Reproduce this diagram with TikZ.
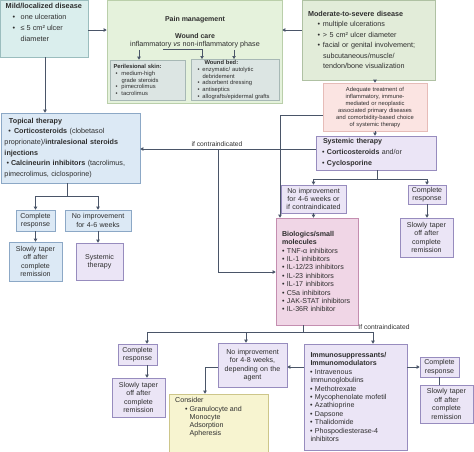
\documentclass[tikz,border=0pt]{standalone}
\usepackage{fontspec}
\setmainfont{Liberation Sans}
\usetikzlibrary{arrows.meta}
\setlength{\parindent}{0pt}
\definecolor{linec}{HTML}{4A5568}
\definecolor{txtc}{HTML}{2E2E2E}
\definecolor{mildf}{HTML}{DAEEED}\definecolor{mildd}{HTML}{9BBDBE}
\definecolor{greenf}{HTML}{E5F2DC}\definecolor{greend}{HTML}{BACFAA}
\definecolor{subf}{HTML}{DCE5E3}\definecolor{subd}{HTML}{A7B8B5}
\definecolor{modf}{HTML}{E2ECD9}\definecolor{modd}{HTML}{AFC1A3}
\definecolor{pinkf}{HTML}{FBE4E2}\definecolor{pinkd}{HTML}{E6BCB8}
\definecolor{purf}{HTML}{EBE5F6}\definecolor{purd}{HTML}{978CBE}
\definecolor{bluef}{HTML}{DCE9F5}\definecolor{blued}{HTML}{8CA8C6}
\definecolor{biof}{HTML}{F0D6E6}\definecolor{biod}{HTML}{C48EB0}
\definecolor{yelf}{HTML}{F7F4D0}\definecolor{yeld}{HTML}{CDC68A}
\newcommand{\mybox}[7]{%
 \pgfmathsetmacro{\mybw}{#5-#3}%
 \pgfmathsetmacro{\mybh}{#6-#4}%
 \pgfmathsetmacro{\mybcx}{(#3+#5)/2}%
 \pgfmathsetmacro{\mybcy}{(#4+#6)/2}%
 \pgfmathsetmacro{\mybtw}{#5-#3-7}%
 \node[#2, minimum width=\mybw pt, minimum height=\mybh pt, text width=\mybtw pt] (#1) at (\mybcx,\mybcy) {#7};}
\newcommand{\mybl}[1][7pt]{\makebox[#1][l]{\textbullet}}
\newcommand{\myli}[1]{\hspace*{2.5pt}\textbullet\hspace{2.5pt}#1}
\tikzset{
 bxbase/.style={draw, line width=0.6pt, inner xsep=3.5pt, inner ysep=1pt, text=txtc, align=left, font=\fontsize{7.1}{8.4}\selectfont},
 bxmild/.style={bxbase, fill=mildf, draw=mildd},
 bxgreen/.style={bxbase, fill=greenf, draw=greend},
 bxsub/.style={bxbase, fill=subf, draw=subd, font=\fontsize{5.8}{6.8}\selectfont},
 bxmod/.style={bxbase, fill=modf, draw=modd},
 bxpink/.style={bxbase, fill=pinkf, draw=pinkd},
 bxpur/.style={bxbase, fill=purf, draw=purd},
 bxblue/.style={bxbase, fill=bluef, draw=blued},
 bxbio/.style={bxbase, fill=biof, draw=biod},
 bxyel/.style={bxbase, fill=yelf, draw=yeld},
 cen/.style={align=center},
 txtnode/.style={inner sep=0pt, align=left, text=txtc},
 lbl/.style={inner sep=0pt, text=txtc, font=\fontsize{6.7}{7}\selectfont},
 conn/.style={draw=linec, line width=0.7pt},
 arr/.style={conn, -{Triangle[width=3.4pt,length=3pt]}},
}
\begin{document}
\begin{tikzpicture}[x=1pt,y=-1pt]
\useasboundingbox (0,0) rectangle (474,451);
% top row
\mybox{mild}{bxmild}{0.3}{0.3}{88}{57}{}
\node[txtnode, anchor=north west, font=\fontsize{7.3}{11}\selectfont] (mildt) at (5.5,3.5) {\textbf{Mild/localized disease}\\ \hspace*{7pt}\mybl[8pt]one ulceration\\ \hspace*{7pt}\mybl[8pt]≤ 5 cm² ulcer\\ \hspace*{15pt}diameter};
\mybox{green}{bxgreen}{107}{0.3}{282}{103}{}
\node[txtnode, font=\bfseries\fontsize{7}{8}\selectfont] (pm) at (195,20) {Pain management};
\node[txtnode, font=\bfseries\fontsize{7}{8}\selectfont] (wc) at (195,35.5) {Wound care};
\node[txtnode, font=\fontsize{7.2}{8}\selectfont] (ph) at (195,44.5) {inflammatory \textit{vs} non-inflammatory phase};
\mybox{per}{bxsub}{110}{60}{185}{100}{\textbf{Perilesional skin:}\\\hspace*{2pt}\mybl[6pt]medium-high\\\hspace*{8pt}grade steroids\\\hspace*{2pt}\mybl[6pt]pimecrolimus\\\hspace*{2pt}\mybl[6pt]tacrolimus}
\mybox{wb}{bxsub}{191}{60}{279}{100}{\hspace*{10pt}\textbf{Wound bed:}\\\hspace*{3pt}\mybl[5pt]enzymatic/ autolytic\\\hspace*{8pt}debridement\\\hspace*{3pt}\mybl[5pt]adsorbent dressing\\\hspace*{3pt}\mybl[5pt]antiseptics\\\hspace*{3pt}\mybl[5pt]allografts/epidermal grafts}
\mybox{mod}{bxmod, font=\fontsize{7.2}{10.5}\selectfont}{302}{0.3}{435}{80}{\hspace*{2.5pt}\textbf{Moderate-to-severe disease}\\\hspace*{12pt}\mybl[5.5pt]multiple ulcerations\\\hspace*{12pt}\mybl[5.5pt]> 5 cm² ulcer diameter\\\hspace*{12pt}\mybl[5.5pt]facial or genital involvement;\\\hspace*{17.5pt}subcutaneous/muscle/\\\hspace*{17.5pt}tendon/bone visualization}
\mybox{pink}{bxpink, cen, font=\fontsize{5.8}{7}\selectfont}{323}{83}{427}{131}{Adequate treatment of\\inflammatory, immune-\\mediated or neoplastic\\associated primary diseases\\and comorbidity-based choice\\of systemic therapy}
\mybox{sys}{bxpur, font=\fontsize{7.1}{11}\selectfont}{316}{136}{436}{170}{\hspace*{3.5pt}\textbf{Systemic therapy}\\\myli{\textbf{Corticosteroids} and/or}\\\myli{\textbf{Cyclosporine}}}
\mybox{top}{bxblue, font=\fontsize{7.2}{10.7}\selectfont}{1}{113}{140}{183}{\hspace*{4.5pt}\textbf{Topical therapy}\\\hspace*{4pt}\textbullet\hspace{3pt}\textbf{Corticosteroids} (clobetasol\\proprionate)/\textbf{intralesional steroids}\\\textbf{injections}\\\hspace*{2pt}\textbullet\hspace{2pt}\textbf{Calcineurin inhibitors} (tacrolimus,\\pimecrolimus, ciclosporine)}
% left branch
\mybox{cra}{bxblue, cen}{16}{210}{55}{231}{Complete\\response}
\mybox{sta}{bxblue, cen}{9}{242}{62}{281}{Slowly taper\\off after\\complete\\remission}
\mybox{nia}{bxblue, cen}{65}{210}{131}{231}{No improvement\\for 4-6 weeks}
\mybox{sya}{bxpur, cen}{76}{243}{123}{280}{Systemic\\therapy}
% systemic branch
\mybox{nib}{bxpur, cen}{281}{185}{346}{213}{No improvement\\for 4-6 weeks or\\if contraindicated}
\mybox{crb}{bxpur, cen}{408}{185}{446}{204}{Complete\\response}
\mybox{stb}{bxpur, cen}{400}{218}{453}{257}{Slowly taper\\off after\\complete\\remission}
\mybox{bio}{bxbio}{276}{218}{358}{325}{\hspace*{2.5pt}\textbf{Biologics/small}\\\hspace*{2.5pt}\textbf{molecules}\\\myli{TNF-α inhibitors}\\\myli{IL-1 inhibitors}\\\myli{IL-12/23 inhibitors}\\\myli{IL-23 inhibitors}\\\myli{IL-17 inhibitors}\\\myli{C5a inhibitors}\\\myli{JAK-STAT inhibitors}\\\myli{IL-36R inhibitor}}
% bottom row
\mybox{crc}{bxpur, cen}{118}{344}{157}{365}{Complete\\response}
\mybox{stc}{bxpur, cen}{112}{378}{165}{417}{Slowly taper\\off after\\complete\\remission}
\mybox{nic}{bxpur, cen}{218}{343}{287}{387}{No improvement\\for 4-8 weeks,\\depending on the\\agent}
\mybox{con}{bxyel}{169}{394}{268}{455}{}
\node[txtnode, anchor=north west, font=\fontsize{7.1}{8.2}\selectfont] (cont) at (175,397.5) {Consider\\\hspace*{10pt}\mybl[4.5pt]Granulocyte and\\\hspace*{14.5pt}Monocyte\\\hspace*{14.5pt}Adsorption\\\hspace*{14.5pt}Apheresis};
\mybox{imm}{bxpur}{304}{344}{407}{450}{\hspace*{3pt}\textbf{Immunosuppressants/}\\\hspace*{3pt}\textbf{Immunomodulators}\\\myli{Intravenous}\\\hspace*{3pt}immunoglobulins\\\myli{Methotrexate}\\\myli{Mycophenolate mofetil}\\\myli{Azathioprine}\\\myli{Dapsone}\\\myli{Thalidomide}\\\myli{Phospodiesterase-4}\\\hspace*{3pt}inhibitors}
\mybox{crd}{bxpur, cen}{420}{357}{459}{377}{Complete\\response}
\mybox{std}{bxpur, cen}{420}{385}{473}{423}{Slowly taper\\off after\\complete\\remission}
% labels
\node[lbl] (ifa) at (217,144.5) {if contraindicated};
\node[lbl] (ifb) at (384,327.5) {If contraindicated};
% helper coordinates
\coordinate (r30) at (0,30);
\coordinate (c45) at (45,0);
\coordinate (r115) at (0,115);
\coordinate (c280) at (280,0);
\coordinate (r149) at (0,149);
\coordinate (c218) at (218,149);
\coordinate (r272) at (0,272);
\coordinate (tsplit) at (67,196);
\coordinate (ssplit) at (377,179);
\coordinate (bsplit) at (303,332);
\coordinate (c147) at (147,0);
\coordinate (c246) at (246,0);
\coordinate (c373) at (373,0);
\coordinate (r367) at (0,367);
\coordinate (c205) at (205,0);
\coordinate (ph1) at (139,49.5);
\coordinate (ph2) at (163,49.5);
\coordinate (ph3) at (202,49.5);
\coordinate (ph4) at (234,49.5);
% connectors
\draw[arr] (mild.east |- r30) -- (green.west |- r30);
\draw[arr] (mod.west |- r30) -- (green.east |- r30);
\draw[arr] (ph1) -- (ph1 |- per.north);
\draw[arr] (ph2) -- (ph3) -- (ph3 |- wb.north);
\draw[arr] (ph4) -- (ph4 |- wb.north);
\draw[arr] (mild.south -| c45) -- (top.north -| c45);
\draw[arr] (mod.south -| pink.north) -- (pink.north);
\draw[arr] (pink.south) -- (pink.south |- sys.north);
\draw[arr] (pink.west |- r115) -| (bio.north -| c280);
\draw[arr] (sys.west |- r149) -- (top.east |- r149);
\draw[arr] (c218) |- (bio.west |- r272);
\draw[conn] (top.south -| tsplit) -- (tsplit);
\draw[arr] (tsplit) -| (cra.north);
\draw[arr] (tsplit) -| (nia.north);
\draw[arr] (cra.south) -- (cra.south |- sta.north);
\draw[arr] (nia.south) -- (nia.south |- sya.north);
\draw[conn] (sys.south -| ssplit) -- (ssplit);
\draw[arr] (ssplit) -| (nib.north);
\draw[arr] (ssplit) -| (crb.north);
\draw[arr] (nib.south) -- (nib.south |- bio.north);
\draw[arr] (crb.south) -- (crb.south |- stb.north);
\draw[conn] (bio.south -| bsplit) -- (bsplit);
\draw[arr] (bsplit) -| (crc.north -| c147);
\draw[arr] (bsplit) -| (nic.north -| c246);
\draw[arr] (bsplit) -| (imm.north -| c373);
\draw[arr] (crc.south -| c147) -- (stc.north -| c147);
\draw[arr] (imm.west |- r367) -- (nic.east |- r367);
\draw[arr] (nic.west |- r367) -| (con.north -| c205);
\draw[arr] (imm.east |- r367) -- (crd.west |- r367);
\draw[conn] (crd.south) -- (crd.south |- std.north);
\end{tikzpicture}
\end{document}
